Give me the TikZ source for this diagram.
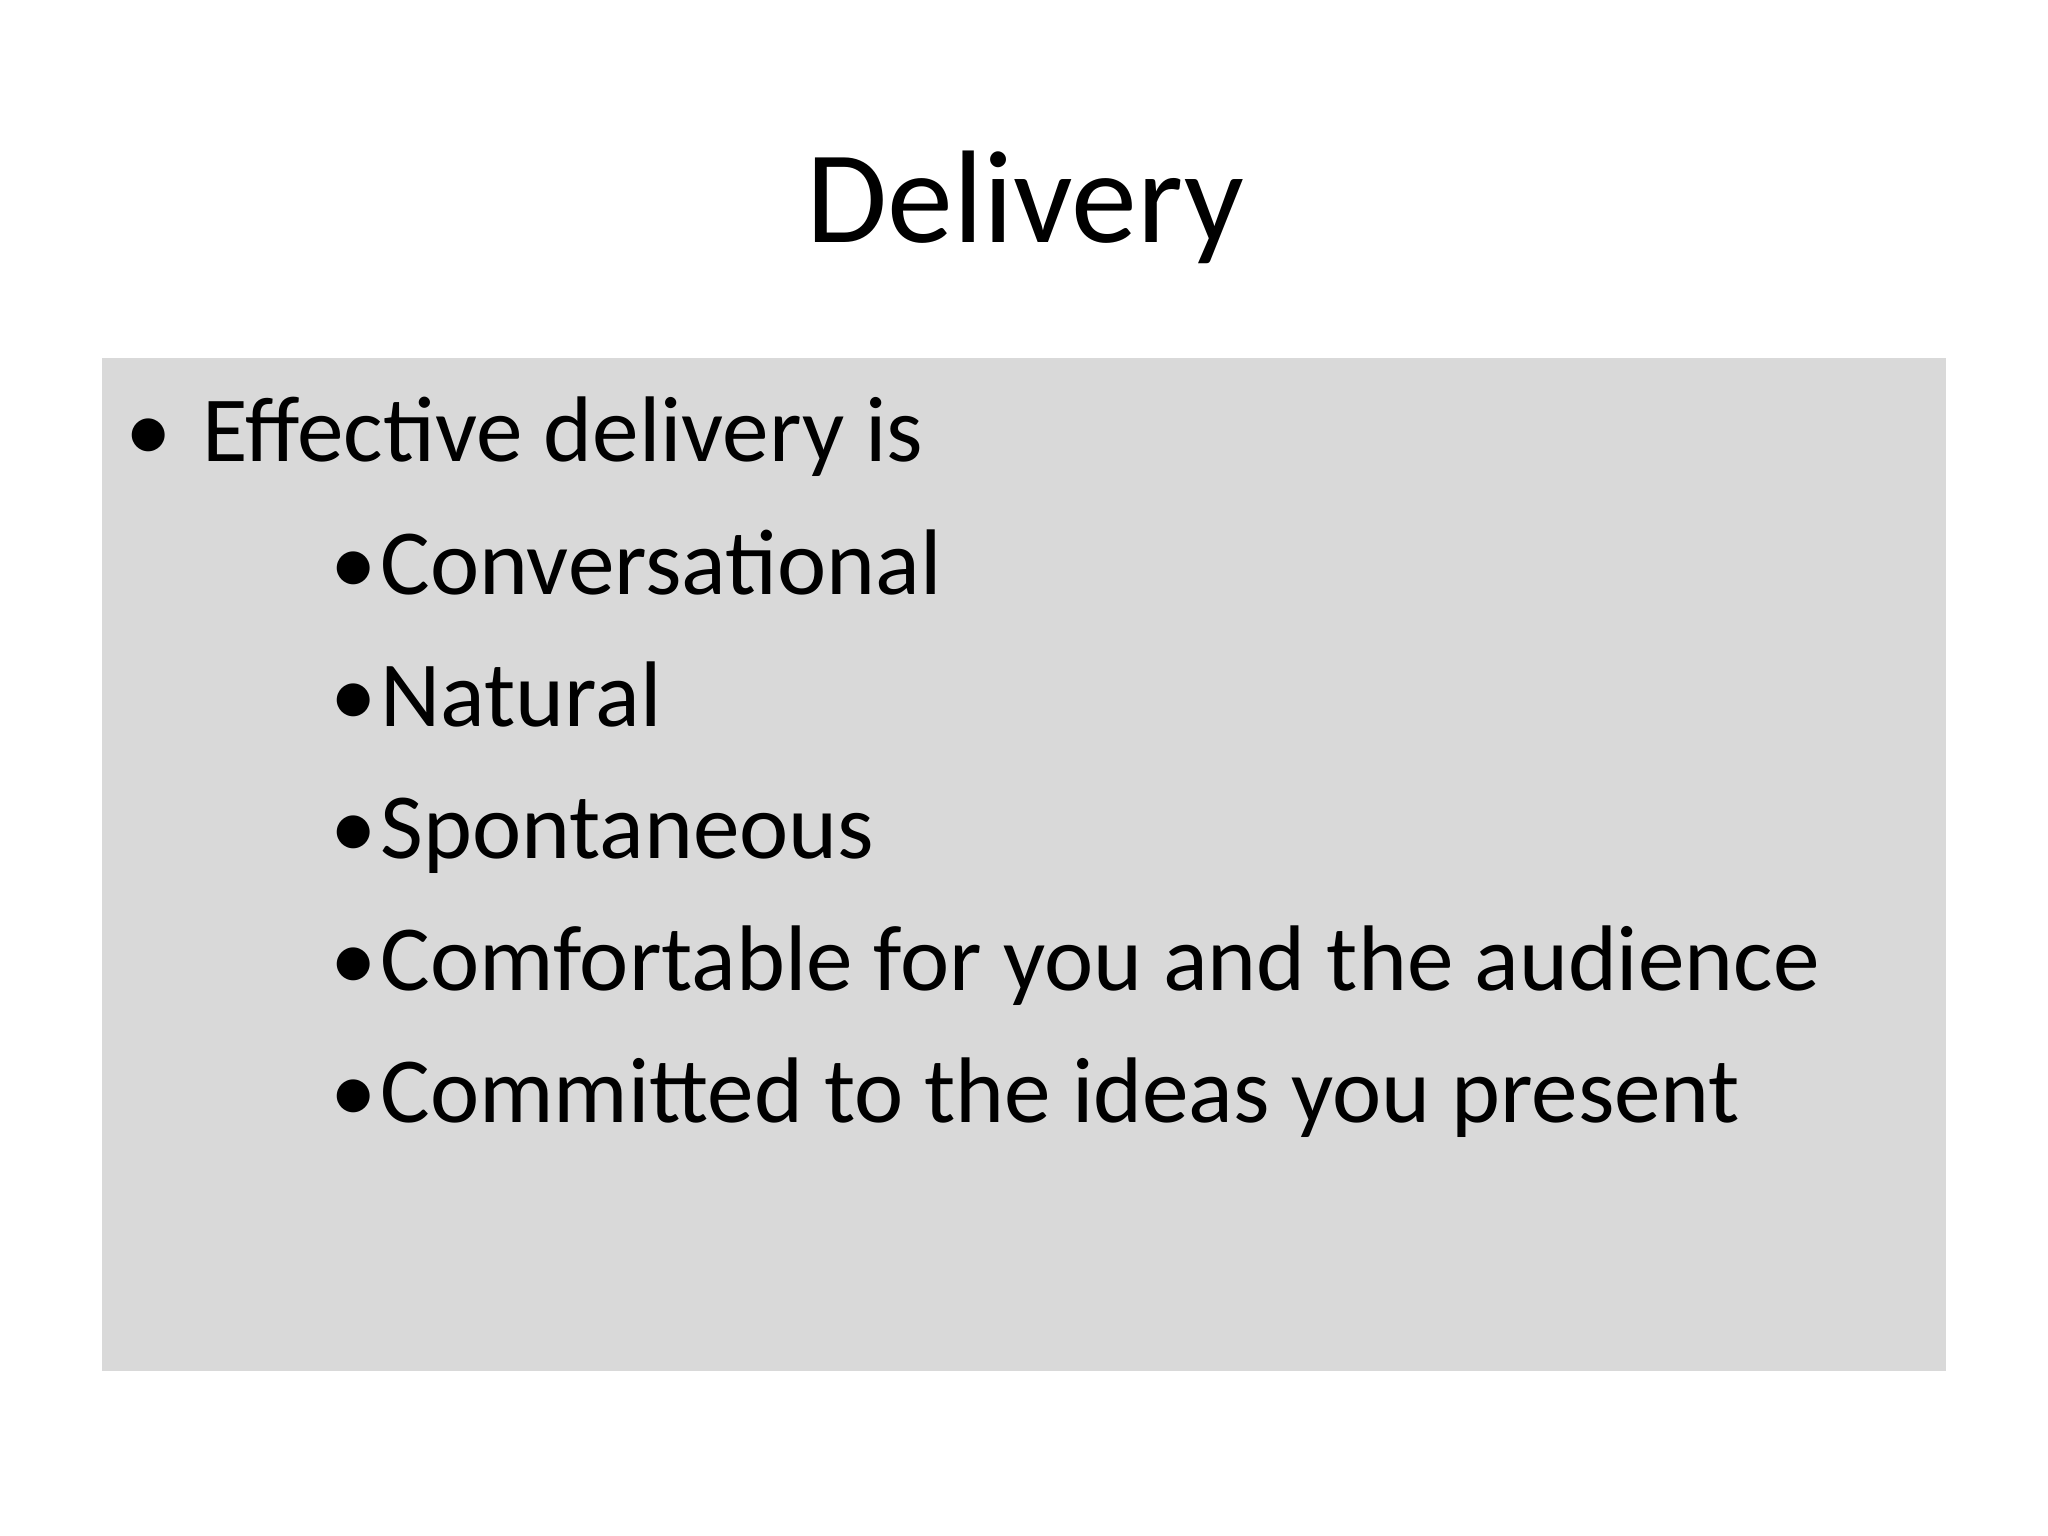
\documentclass[tikz,border=0pt]{standalone}
\usepackage{fontspec}
\setmainfont{Carlito}
\begin{document}
\begin{tikzpicture}[x=0.01cm,y=-0.01cm,
  title/.style={font=\fontsize{37.5pt}{45pt}\selectfont,inner sep=0pt},
  item/.style={font=\fontsize{26.5pt}{32pt}\selectfont,inner sep=0pt,anchor=base west}]
\useasboundingbox (0,0) rectangle (2048,1536);
\fill[white] (0,0) rectangle (2048,1536);
\fill[fill={rgb,255:red,217;green,217;blue,217}] (102,358) rectangle (1946,1371);
\node[title,anchor=base] (t) at (1025,242) {Delivery};
\node[item] (b0) at (125,461) {•};
\node[item] (i0) at (202,461) {Effective delivery is};
\foreach \y/\t [count=\n] in {594/Conversational,726/Natural,858/Spontaneous,990/Comfortable for you and the audience,1122/Committed to the ideas you present}{
  \node[item] (b\n) at (330,\y) {•};
  \node[item] (i\n) at (380,\y) {\t};
}
\end{tikzpicture}
\end{document}
